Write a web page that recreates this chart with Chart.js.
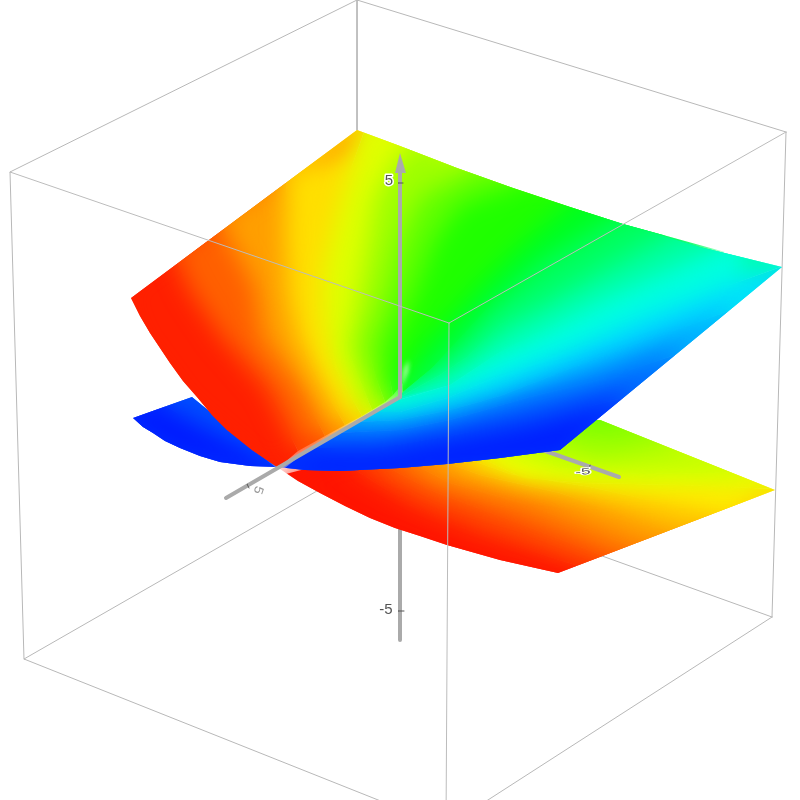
<!DOCTYPE html>
<html>
<head>
<meta charset="utf-8">
<style>
  html, body { margin: 0; padding: 0; background: #fff; }
  #surfaceChart { display: block; }
</style>
<script src="https://cdn.jsdelivr.net/npm/chart.js@4"></script>
</head>
<body>
<canvas id="surfaceChart" width="800" height="800"></canvas>
<script>

// --- Bounding box ---
const boxBack = [
    [[357, 0], [357, 130]],
    [[24, 659], [357, 468]],
    [[772, 617], [357, 468]],
    [[357, 0], [10, 172]],
    [[357, 0], [786, 132]],
    [[10, 172], [24, 659]],
    [[786, 132], [772, 617]],
    [[24, 659], [446, 827]],
    [[772, 617], [446, 827]]
];
const boxFront = [
    [[10, 172], [449, 323]],
    [[786, 132], [449, 323]],
    [[449, 323], [446, 827]]
];

// --- Axes ---
const zAxisLow = [[400, 480], [400, 640]];
const zAxisHigh = [[400, 397], [400, 168]];
const zArrow = [[400, 153], [406, 173], [395, 173]];
const xAxisRight = [[500, 435], [619, 477]];
const xAxisLeft = [[400, 397], [226, 498]];
const tickMarks = [
    [[398, 183], [403, 183]],
    [[398, 611], [404, 611]],
    [[247, 484], [249, 488]],
    [[590, 465], [589, 469]]
];
const tickText = ['5', '-5', '5', '-5'];
const tickX = [389, 386, 258, 583];
const tickY = [181, 610, 490, 472];

// --- Upper sheet, iso-hue lines (last point of each runs just past the sheet edge) ---
const upperHues = [0, 15, 30, 45, 60, 75, 90, 105, 120, 135, 150, 165, 180, 195, 210, 225, 240];
const upperIso = [
    [[270, 475], [185, 402], [138, 338], [120, 290]],
    [[298, 451], [267, 387], [222, 337], [190, 290], [172, 250]],
    [[325, 436], [300, 387], [262, 337], [255, 287], [218, 218]],
    [[345, 425], [320, 382], [297, 337], [288, 297], [285, 235], [287, 170]],
    [[362, 416], [347, 390], [330, 357], [323, 317], [323, 273], [333, 230], [347, 180], [369, 118]],
    [[372, 410], [360, 380], [347, 347], [358, 297], [368, 240], [375, 197], [393, 165], [412, 140]],
    [[385, 402], [377, 380], [367, 347], [385, 297], [400, 240], [420, 197], [482, 165]],
    [[393, 395], [390, 380], [390, 347], [413, 297], [435, 240], [460, 205], [535, 178]],
    [[403, 383], [423, 343], [447, 320], [477, 287], [507, 257], [533, 233], [582, 190]],
    [[403, 392], [432, 368], [460, 338], [495, 300], [540, 262], [632, 208]],
    [[400, 397], [440, 375], [467, 357], [500, 325], [600, 270], [690, 222]],
    [[388, 403], [450, 385], [500, 352], [600, 300], [745, 236]],
    [[372, 412], [400, 412], [450, 397], [500, 375], [573, 347], [640, 317], [800, 260]],
    [[355, 422], [400, 420], [450, 410], [500, 396], [580, 365], [745, 305]],
    [[335, 433], [400, 430], [450, 420], [530, 397], [600, 380], [690, 350]],
    [[310, 448], [380, 448], [450, 436], [530, 421], [635, 395]],
    [[270, 480], [340, 482], [400, 480], [447, 476], [565, 462]]
];
const upperWarmEnd = 9; // last band on the warm side of the fold

// --- Lower sheet, iso-hue lines ---
const lowerHues = [0, 10, 20, 30, 40, 50, 60, 70, 80, 90, 100, 110];
const lowerIso = [
    [[270, 478], [365, 530], [440, 558], [555, 585]],
    [[340, 460], [410, 505], [480, 535], [598, 572]],
    [[365, 455], [430, 490], [510, 520], [622, 563]],
    [[395, 455], [450, 483], [530, 505], [648, 553]],
    [[420, 453], [480, 475], [560, 493], [688, 538]],
    [[445, 451], [510, 474], [590, 487], [738, 520]],
    [[465, 450], [523, 478], [583, 483], [683, 485], [795, 490]],
    [[495, 445], [560, 468], [640, 474], [768, 472]],
    [[530, 435], [600, 455], [690, 440]],
    [[545, 420], [648, 425]],
    [[585, 410], [622, 410]],
    [[590, 390], [600, 400]]
];
const lowerLeftHues = [215, 228, 240];
const lowerLeftIso = [
    [[185, 385], [230, 405], [285, 430]],
    [[150, 398], [200, 425], [260, 455]],
    [[118, 420], [175, 455], [250, 475], [285, 475]]
];

// --- Surface outlines, used as clip shapes ---
const upperLeftEdge = [[277, 467], [252, 450], [227, 430], [212, 415], [197, 397], [183, 381], [170, 363], [160, 348], [150, 333], [140, 316], [131, 298]];
const upperTopLeft = [[357, 130], [400, 146], [457, 168], [513, 188], [570, 207], [623, 224]];
const upperTopRight = [[623, 224], [700, 247], [782, 267]];
const upperBottomEdge = [[560, 450], [500, 458], [447, 464], [400, 468], [340, 471], [305, 470], [277, 467]];
const lowerRightOutline = [[277, 467], [298, 481], [320, 493], [345, 506], [370, 518], [395, 528], [420, 536], [447, 545], [500, 560], [558, 573], [775, 490], [690, 456], [600, 420], [450, 420]];
const lowerLeftOutline = [[133, 418], [192, 397], [277, 467], [250, 466], [220, 462], [200, 456], [180, 448], [165, 441], [153, 433], [143, 427]];
const pinchGlow = [[401, 388], [404, 368], [409, 360], [408, 372]];

const blurSize = 12;
const hueColor = (h) => `hsl(${h}, 100%, 50%)`;
const toPoints = (list) => list.map(p => ({ x: p[0], y: p[1] }));

const datasets = [];

const addLine = (points, color, width) => {
    datasets.push({
        data: toPoints(points),
        showLine: true,
        pointRadius: 0,
        borderColor: color,
        borderWidth: width,
        borderCapStyle: 'round',
        borderJoinStyle: 'round',
        tension: 0
    });
};

// A band is painted by the shapePainter plugin below, through the chart scales
const addShape = (points, color, clip, blur) => {
    datasets.push({
        data: toPoints(points),
        showLine: false,
        pointRadius: 0,
        shape: { color: color, clip: clip, blur: blur }
    });
};

function addSheet(hues, iso, clipFor) {
    // flat bands first so nothing white can show, then blurred ones over them
    for (let i = 0; i < iso.length - 1; i++) {
        const mid = (hues[i] + hues[i + 1]) / 2;
        addShape(iso[i].concat(iso[i + 1].slice().reverse()), hueColor(mid), clipFor(i), 0);
    }
    for (let i = 0; i < iso.length - 1; i++) {
        const mid = (hues[i] + hues[i + 1]) / 2;
        const far = iso[Math.min(i + 2, iso.length - 1)];
        addShape(iso[i].concat(far.slice().reverse()), hueColor(mid), clipFor(i), blurSize);
    }
}

// the fold along the left x axis is a hard colour break, so each side gets its own clip
const warmClip = upperLeftEdge
    .concat(upperTopLeft)
    .concat([[725, 252]])
    .concat(upperIso[11].slice(1, -1).reverse())
    .concat([[400, 397]]);
const coolClip = [[400, 397]]
    .concat(upperIso[9].slice(0, -1))
    .concat(upperTopRight)
    .concat(upperBottomEdge);

boxBack.forEach(l => addLine(l, '#b8b8b8', 1));
addLine(zAxisLow, '#aaaaaa', 4);
tickMarks.slice(1, 2).forEach(l => addLine(l, '#555555', 1));
addSheet(lowerLeftHues, lowerLeftIso, () => lowerLeftOutline);
addSheet(lowerHues, lowerIso, () => lowerRightOutline);
addLine(xAxisRight, '#aaaaaa', 4);
addLine(tickMarks[3], '#555555', 1);
addSheet(upperHues, upperIso, (i) => (i <= upperWarmEnd ? warmClip : coolClip));
addShape(pinchGlow, 'rgba(255, 255, 255, 0.6)', null, 2);
addLine(zAxisHigh, '#aaaaaa', 4);
addShape(zArrow, '#aaaaaa', null, 0);
addLine(xAxisLeft, '#aaaaaa', 4);
addLine(tickMarks[0], '#555555', 1);
addLine(tickMarks[2], '#555555', 1);
boxFront.forEach(l => addLine(l, '#bcbcbc', 1));

// paint order is the array order
datasets.forEach((d, i) => { d.order = datasets.length - i; });

const shapePainter = {
    id: 'shapePainter',
    beforeDatasetDraw(chart, args) {
        const shape = chart.data.datasets[args.index].shape;
        if (!shape) return;
        const ctx = chart.ctx;
        const sx = chart.scales.x;
        const sy = chart.scales.y;
        const trace = (list) => {
            ctx.beginPath();
            list.forEach((p, i) => {
                if (i === 0) ctx.moveTo(sx.getPixelForValue(p[0]), sy.getPixelForValue(p[1]));
                else ctx.lineTo(sx.getPixelForValue(p[0]), sy.getPixelForValue(p[1]));
            });
            ctx.closePath();
        };
        ctx.save();
        if (shape.clip) {
            trace(shape.clip);
            ctx.clip();
        }
        if (shape.blur) ctx.filter = `blur(${shape.blur}px)`;
        trace(chart.data.datasets[args.index].data.map(p => [p.x, p.y]));
        ctx.fillStyle = shape.color;
        ctx.fill();
        ctx.restore();
        return false;
    }
};

// --- Tick labels: 5 and -5 up the z axis, the x ones are seen nearly edge-on ---
const tickLabels = {
    id: 'tickLabels',
    afterDatasetsDraw(chart) {
        const ctx = chart.ctx;
        tickText.forEach((text, i) => {
            ctx.save();
            ctx.translate(chart.scales.x.getPixelForValue(tickX[i]), chart.scales.y.getPixelForValue(tickY[i]));
            if (i === 2) {
                ctx.rotate(1.9);
                ctx.scale(0.95, 0.85);
            }
            if (i === 3) {
                ctx.rotate(-0.1);
                ctx.scale(1.15, 0.6);
            }
            ctx.font = '15px "Liberation Sans", Arial, sans-serif';
            ctx.textAlign = 'center';
            ctx.textBaseline = 'middle';
            if (i !== 1 && i !== 2) {
                ctx.strokeStyle = '#ffffff';
                ctx.lineWidth = 3;
                ctx.lineJoin = 'round';
                ctx.strokeText(text, 0, 0);
            }
            ctx.fillStyle = i === 2 ? '#999999' : '#555555';
            ctx.fillText(text, 0, 0);
            ctx.restore();
        });
    }
};

new Chart(document.getElementById('surfaceChart').getContext('2d'), {
    type: 'scatter',
    data: { datasets: datasets },
    options: {
        responsive: false,
        animation: false,
        events: [],
        layout: { padding: 0 },
        scales: {
            x: { type: 'linear', min: 0, max: 800, display: false },
            y: { type: 'linear', min: 0, max: 800, reverse: true, display: false }
        },
        plugins: {
            legend: { display: false },
            tooltip: { enabled: false }
        }
    },
    plugins: [shapePainter, tickLabels]
});
</script>
</body>
</html>
